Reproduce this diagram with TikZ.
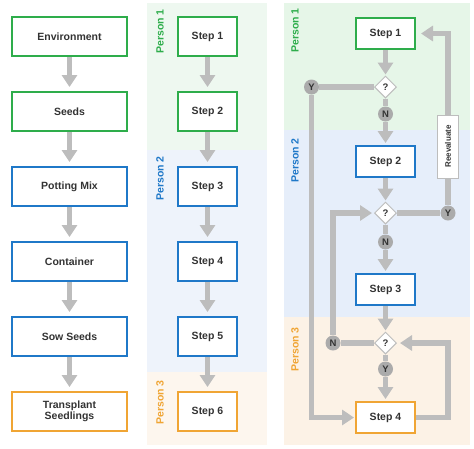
\documentclass[tikz,border=0pt]{standalone}
\usepackage{fontspec}
\setmainfont{Liberation Sans}
\usetikzlibrary{arrows.meta,shapes.geometric}
\pgfdeclarelayer{back}
\pgfdeclarelayer{lines}
\pgfsetlayers{back,lines,main}
\definecolor{cgreen}{HTML}{2EAD4B}
\definecolor{cblue}{HTML}{1F78C8}
\definecolor{corange}{HTML}{F0A534}
\definecolor{bgreenA}{HTML}{EEF8F0}
\definecolor{bblueA}{HTML}{EEF3FB}
\definecolor{borangeA}{HTML}{FDF6EE}
\definecolor{bgreenB}{HTML}{E6F6E8}
\definecolor{bblueB}{HTML}{E6EEFA}
\definecolor{borangeB}{HTML}{FCF2E6}
\definecolor{agray}{HTML}{BDBDBD}
\definecolor{cgray}{HTML}{ABABAB}
\definecolor{txt}{HTML}{333333}
\tikzset{
  basebox/.style={draw=#1, line width=2pt, fill=white, text=txt, font=\bfseries\fontsize{10.5}{11}\selectfont, inner sep=0pt, align=center},
  widebox/.style={basebox=#1, minimum width=115pt, minimum height=39pt},
  stepbox/.style={basebox=#1, minimum width=59pt, minimum height=39pt},
  rstepbox/.style={basebox=#1, minimum width=59pt, minimum height=31pt},
  decide/.style={diamond, draw=agray, line width=1pt, fill=white, minimum width=22pt, minimum height=22pt, inner sep=0pt, text=txt, font=\bfseries\fontsize{9.5}{9.5}\selectfont},
  dot/.style={circle, fill=cgray, minimum size=15pt, inner sep=0pt, text=txt, font=\bfseries\fontsize{9.5}{9.5}\selectfont},
  plab/.style={rotate=90, anchor=east, text=#1, font=\bfseries\fontsize{10.5}{10.5}\selectfont, inner sep=0pt},
  arr/.style={line width=5.5pt, draw=agray, line join=miter, -{Triangle[width=15pt,length=12pt]}},
  conn/.style={line width=5.5pt, draw=agray, line join=miter},
  rebox/.style={draw=agray, line width=1pt, fill=white, minimum width=21pt, minimum height=63pt, inner sep=0pt},
}
\begin{document}
\begin{tikzpicture}[x=1pt,y=-1pt]
\useasboundingbox (0,0) rectangle (474,448);
% backgrounds
\begin{pgfonlayer}{back}
\fill[bgreenA] (147,3) rectangle (267,150);
\fill[bblueA] (147,150) rectangle (267,372);
\fill[borangeA] (147,372) rectangle (267,445);
\fill[bgreenB] (284,3) rectangle (470,130);
\fill[bblueB] (284,130) rectangle (470,317);
\fill[borangeB] (284,317) rectangle (470,445);
\end{pgfonlayer}
% left column
\node[widebox=cgreen] (L1) at (69.5,36.5) {Environment};
\node[widebox=cgreen] (L2) at (69.5,111.5) {Seeds};
\node[widebox=cblue] (L3) at (69.5,186.5) {Potting Mix};
\node[widebox=cblue] (L4) at (69.5,261.5) {Container};
\node[widebox=cblue] (L5) at (69.5,336.5) {Sow Seeds};
\node[widebox=corange] (L6) at (69.5,411.5) {Transplant\\Seedlings};
% middle column
\node[stepbox=cgreen] (M1) at (207.5,36.5) {Step 1};
\node[stepbox=cgreen] (M2) at (207.5,111.5) {Step 2};
\node[stepbox=cblue] (M3) at (207.5,186.5) {Step 3};
\node[stepbox=cblue] (M4) at (207.5,261.5) {Step 4};
\node[stepbox=cblue] (M5) at (207.5,336.5) {Step 5};
\node[stepbox=corange] (M6) at (207.5,411.5) {Step 6};
\node[plab=cgreen] (MP1) at (160,9) {Person 1};
\node[plab=cblue] (MP2) at (160,156) {Person 2};
\node[plab=corange] (MP3) at (160,380) {Person 3};
% right column
\node[rstepbox=cgreen] (S1) at (385.5,33.5) {Step 1};
\node[decide] (D1) at (385.5,87) {?};
\node[dot] (N1) at (385.5,114) {N};
\node[dot] (Y1) at (311.5,87) {Y};
\node[rstepbox=cblue] (S2) at (385.5,161.5) {Step 2};
\node[decide] (D2) at (385.5,213) {?};
\node[dot] (N2) at (385.5,242) {N};
\node[dot] (Y2) at (448,213) {Y};
\node[rstepbox=cblue] (S3) at (385.5,289.5) {Step 3};
\node[decide] (D3) at (385.5,343) {?};
\node[dot] (Y3) at (385.5,369) {Y};
\node[dot] (N3) at (333,343) {N};
\node[rstepbox=corange] (S4) at (385.5,417.5) {Step 4};
\node[rebox] (RE) at (448,146.5) {};
\node[rotate=90, text=txt, font=\bfseries\fontsize{8}{8}\selectfont, inner sep=0pt] (RT) at (RE.center) {Reevaluate};
\coordinate (LP) at (448,343);
\node[plab=cgreen] (RP1) at (295,8) {Person 1};
\node[plab=cblue] (RP2) at (295,138) {Person 2};
\node[plab=corange] (RP3) at (295,327) {Person 3};
% connectors
\begin{pgfonlayer}{lines}
\foreach \a/\b in {L1/L2,L2/L3,L3/L4,L4/L5,L5/L6,M1/M2,M2/M3,M3/M4,M4/M5,M5/M6}
  \draw[arr, shorten >=4pt] (\a.south) -- (\b.north);
\draw[arr, shorten >=1pt] (S1.south) -- (D1.north);
\draw[conn] (D1.south) -- (N1.north);
\draw[arr, shorten >=2pt] (N1.south) -- (S2.north);
\draw[conn] (D1.west) -- (Y1.east);
\draw[arr, shorten >=1pt] (Y1.south) |- (S4.west);
\draw[arr, shorten >=1pt] (S2.south) -- (D2.north);
\draw[conn] (D2.east) -- (Y2.west);
\draw[arr, shorten >=5pt] (Y2.north) |- (S1.east);
\draw[conn] (D2.south) -- (N2.north);
\draw[arr, shorten >=2pt] (N2.south) -- (S3.north);
\draw[arr, shorten >=1pt] (S3.south) -- (D3.north);
\draw[conn] (D3.west) -- (N3.east);
\draw[arr, shorten >=2pt] (N3.north) |- (D2.west);
\draw[conn] (D3.south) -- (Y3.north);
\draw[arr, shorten >=2pt] (Y3.south) -- (S4.north);
\draw[arr, shorten >=3pt] (S4.east) -| (LP) -- (D3.east);
\end{pgfonlayer}
\end{tikzpicture}
\end{document}
